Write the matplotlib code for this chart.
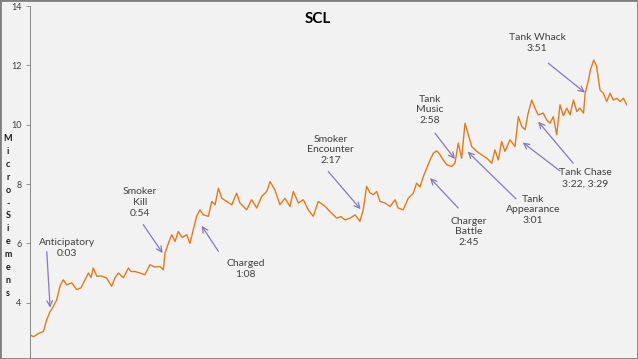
import matplotlib
matplotlib.use("Agg")
import matplotlib.pyplot as plt
from matplotlib.patches import Rectangle

plt.rcParams['font.family'] = ['Lato', 'DejaVu Sans']

# time (seconds) and skin conductance (micro-siemens)
times = [0, 1.4, 3.3, 5.6, 7.0, 8.4, 9.6, 11.2, 12.5, 13.9, 15.3, 17.4, 19.5, 21.3,
         23.0, 24.4, 25.5, 26.4, 27.9, 29.7, 32.0, 34.1, 35.5, 36.9, 39.0, 41.1,
         42.2, 43.9, 45.9, 48.0, 50.1, 52.2, 54.3, 55.7, 56.4, 57.8, 59.2, 60.6,
         61.9, 63.5, 65.5, 66.8, 68.2, 69.6, 71.0, 72.4, 74.5, 75.9, 77.3, 78.7,
         80.1, 82.2, 84.3, 86.3, 87.7, 90.5, 92.6, 94.7, 96.8, 98.9, 100.3, 102.3,
         104.4, 106.5, 108.6, 110.0, 112.1, 114.2, 116.2, 118.3, 120.4, 123.2,
         125.3, 128.1, 129.9, 131.6, 133.7, 135.8, 137.8, 139.2, 140.6, 142.0,
         143.4, 144.8, 146.2, 148.3, 150.4, 152.5, 153.8, 155.9, 158.0, 160.1,
         161.5, 162.9, 164.3, 165.7, 167.1, 168.5, 169.9, 171.3, 172.6, 174.1,
         176.1, 177.5, 178.9, 180.3, 181.7, 183.1, 184.5, 186.6, 188.7, 190.8,
         192.9, 194.2, 195.6, 197.0, 198.4, 200.5, 202.6, 204.0, 205.4, 206.8,
         208.1, 209.6, 210.9, 212.3, 214.4, 215.8, 217.2, 218.6, 220.0, 221.4,
         222.8, 224.2, 225.6, 227.0, 228.4, 229.7, 231.2, 231.9, 233.3, 234.1,
         235.5, 236.7, 238.1, 239.5, 240.9, 242.3, 243.7, 245.1, 246.5, 247.9,
         249.2]
scl = [2.92, 2.85, 2.95, 3.03, 3.43, 3.70, 3.85, 4.10, 4.55, 4.77, 4.60, 4.67, 4.44,
       4.50, 4.77, 5.00, 4.85, 5.17, 4.89, 4.90, 4.83, 4.55, 4.84, 5.00, 4.84, 5.17,
       5.05, 5.05, 5.00, 4.94, 5.28, 5.20, 5.22, 5.11, 5.67, 6.00, 6.29, 6.06, 6.40,
       6.20, 6.29, 6.00, 6.46, 6.91, 7.13, 6.96, 6.91, 7.41, 7.30, 7.86, 7.52, 7.41,
       7.30, 7.69, 7.36, 7.13, 7.47, 7.19, 7.58, 7.75, 8.08, 7.80, 7.30, 7.52, 7.24,
       7.75, 7.36, 7.47, 7.13, 6.91, 7.41, 7.25, 7.07, 6.85, 6.90, 6.79, 6.85, 6.96,
       6.74, 7.13, 7.92, 7.70, 7.64, 7.75, 7.41, 7.36, 7.24, 7.47, 7.19, 7.13, 7.52,
       7.69, 8.03, 7.90, 8.25, 8.53, 8.81, 9.04, 9.12, 8.98, 8.81, 8.65, 8.59, 8.70,
       9.38, 8.87, 10.05, 9.66, 9.26, 9.10, 8.98, 8.87, 8.70, 9.15, 8.81, 9.43, 9.10,
       9.49, 9.26, 10.27, 9.94, 9.83, 10.39, 10.83, 10.56, 10.33, 10.39, 10.16, 10.05,
       10.27, 9.66, 10.67, 10.30, 10.56, 10.33, 10.83, 10.44, 10.56, 10.39, 11.06,
       11.51, 11.85, 12.18, 11.96, 11.17, 11.06, 10.78, 11.06, 10.83, 10.89, 10.78,
       10.89, 10.67]

yticks = [2, 4, 6, 8, 10, 12, 14]

# annotations: label, text position, list of (arrow start, arrow tip)
ann_labels = ["Anticipatory\n0:03", "Smoker\nKill\n0:54", "Charged\n1:08",
              "Smoker\nEncounter\n2:17", "Tank\nMusic\n2:58", "Charger\nBattle\n2:45",
              "Tank\nAppearance\n3:01", "Tank Chase\n3:22, 3:29", "Tank Whack\n3:51"]
ann_text_xy = [(15.5, 5.85), (45.9, 7.38), (90.1, 5.14), (125.7, 9.15), (167.1, 10.5),
               (183.1, 6.39), (210.0, 7.13), (231.8, 8.19), (211.9, 12.75)]
ann_arrows = [[((7.0, 5.72), (8.4, 3.83))],
              [((47.3, 6.63), (55.4, 5.67))],
              [((78.7, 5.73), (71.7, 6.59))],
              [((124.6, 8.42), (138.1, 7.15))],
              [((169.2, 9.71), (177.5, 8.84))],
              [((178.9, 7.19), (167.1, 8.20))],
              [((203.0, 7.50), (182.8, 9.09))],
              [((221.4, 8.44), (205.8, 9.40)), ((226.9, 8.70), (212.3, 10.10))],
              [((216.5, 12.07), (231.8, 11.08))]]

W, H = 638, 359
fig = plt.figure(figsize=(W / 100, H / 100), dpi=100)
fig.patch.set_facecolor('#f2f2f2')

left, right, top, bottom = 30, 633, 6, 362
ax = fig.add_axes([left / W, 1 - bottom / H, (right - left) / W, (bottom - top) / H])
ax.set_facecolor('#f2f2f2')
ax.plot(times, scl, color='#e47b1a', lw=1.0)

ax.set_ylim(2, 14)
ax.set_xlim(0, (right - left) / 2.394)
ax.set_yticks(yticks)
ax.set_yticklabels([str(v) for v in yticks])
ax.tick_params(axis='y', direction='out', length=3, width=0.6, colors='#868686',
               labelcolor='#404040', labelsize=6.5, pad=3)
ax.set_xticks([])
for s in ['top', 'right', 'bottom']:
    ax.spines[s].set_visible(False)
ax.spines['left'].set_color('#868686')
ax.spines['left'].set_linewidth(0.7)

for lab, txy, arrows in zip(ann_labels, ann_text_xy, ann_arrows):
    ax.text(txy[0], txy[1], lab, ha='center', va='center', fontsize=7.5,
            color='#404040', linespacing=1.25)
    for start, tip in arrows:
        ax.annotate('', xy=tip, xytext=start,
                    arrowprops=dict(arrowstyle='->', color='#8878b8', lw=0.9,
                                    shrinkA=0, shrinkB=0))

fig.text(318 / W, 1 - 19 / H, 'SCL', ha='center', va='center', fontsize=11,
         fontweight='bold', color='black')
fig.text(8 / W, 1 - 216 / H, '\n'.join('Micro-Siemens'), ha='center', va='center',
         fontsize=6.5, fontweight='bold', color='#1a1a1a', linespacing=1.55)

fig.patches.append(Rectangle((0, 0), 1, 1, transform=fig.transFigure, fill=False,
                             edgecolor='#7f7f7f', lw=2.0))

fig.savefig('out.png', dpi=100, facecolor=fig.get_facecolor())
